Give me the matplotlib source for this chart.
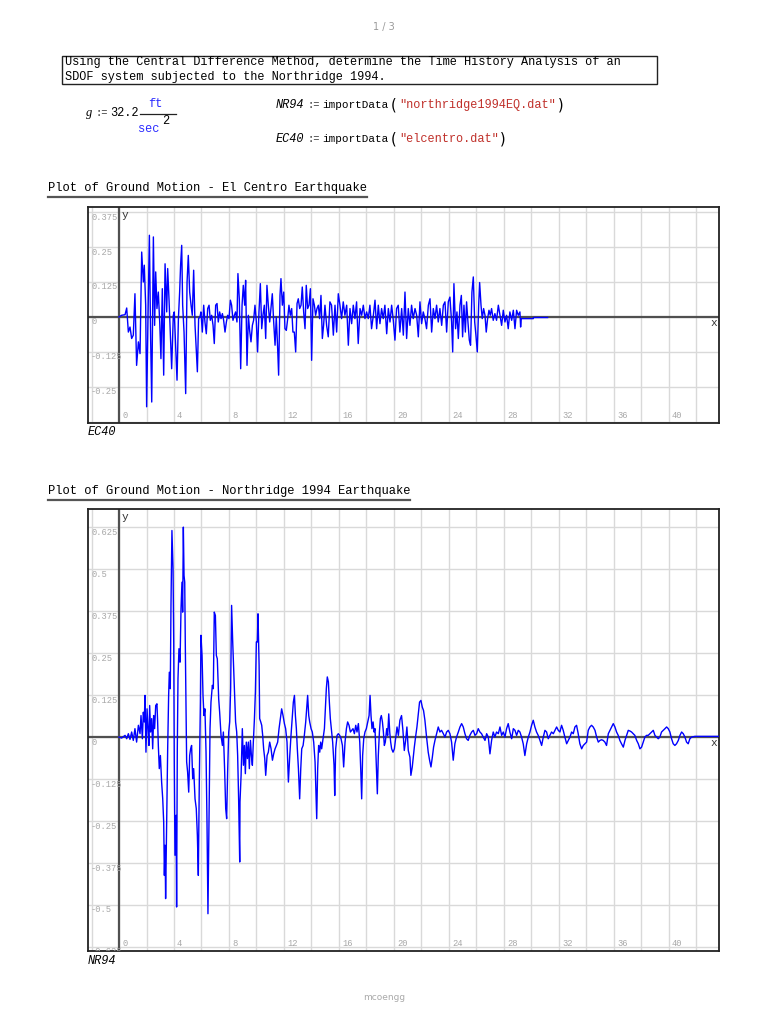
import matplotlib.pyplot as plt
import matplotlib.transforms as mtransforms
from matplotlib.patches import Rectangle
from matplotlib.lines import Line2D

# ground motion: time (s) and acceleration (g)
ec40_t = [0.00, 0.19, 0.44, 0.56, 0.68, 0.80, 0.92, 1.04, 1.16, 1.28, 1.41, 1.53, 1.65, 1.77, 1.84,
          1.94, 2.01, 2.13, 2.21, 2.30, 2.38, 2.50, 2.59, 2.67, 2.76, 2.86, 2.96, 3.05, 3.15, 3.25,
          3.35, 3.47, 3.54, 3.64, 3.73, 3.83, 3.95, 4.02, 4.12, 4.22, 4.32, 4.41, 4.48, 4.56, 4.63,
          4.73, 4.85, 4.95, 5.04, 5.14, 5.24, 5.33, 5.43, 5.53, 5.60, 5.70, 5.79, 5.89, 5.96, 6.06,
          6.16, 6.25, 6.35, 6.45, 6.55, 6.64, 6.74, 6.84, 6.93, 7.03, 7.13, 7.22, 7.32, 7.42, 7.52,
          7.61, 7.71, 7.81, 7.90, 8.00, 8.10, 8.19, 8.29, 8.39, 8.48, 8.58, 8.65, 8.75, 8.85, 8.95,
          9.04, 9.14, 9.21, 9.31, 9.41, 9.50, 9.60, 9.70, 9.79, 9.89, 9.99, 10.08, 10.18, 10.28, 10.38,
          10.47, 10.57, 10.67, 10.76, 10.86, 10.96, 11.05, 11.15, 11.25, 11.35, 11.44, 11.54, 11.61, 11.71, 11.78,
          11.88, 11.98, 12.07, 12.17, 12.27, 12.36, 12.46, 12.56, 12.65, 12.75, 12.85, 12.95, 13.04, 13.14, 13.24,
          13.33, 13.43, 13.53, 13.62, 13.72, 13.82, 13.92, 14.01, 14.11, 14.21, 14.30, 14.40, 14.50, 14.59, 14.69,
          14.79, 14.88, 14.98, 15.10, 15.22, 15.34, 15.46, 15.59, 15.71, 15.83, 15.95, 16.07, 16.19, 16.31, 16.43,
          16.56, 16.68, 16.80, 16.92, 17.04, 17.16, 17.28, 17.40, 17.53, 17.65, 17.77, 17.89, 18.01, 18.13, 18.25,
          18.37, 18.50, 18.62, 18.74, 18.86, 18.98, 19.10, 19.22, 19.34, 19.47, 19.59, 19.71, 19.83, 19.95, 20.07,
          20.19, 20.31, 20.43, 20.56, 20.68, 20.80, 20.92, 21.04, 21.16, 21.28, 21.40, 21.53, 21.65, 21.77, 21.89,
          22.01, 22.13, 22.25, 22.37, 22.50, 22.62, 22.74, 22.86, 22.98, 23.10, 23.22, 23.34, 23.47, 23.59, 23.71,
          23.83, 23.95, 24.07, 24.19, 24.27, 24.36, 24.48, 24.58, 24.68, 24.80, 24.90, 24.99, 25.09, 25.19, 25.28,
          25.38, 25.48, 25.57, 25.67, 25.77, 25.87, 25.96, 26.06, 26.16, 26.23, 26.33, 26.42, 26.52, 26.62, 26.71,
          26.81, 26.91, 27.00, 27.10, 27.22, 27.34, 27.46, 27.59, 27.71, 27.83, 27.95, 28.07, 28.19, 28.31, 28.43,
          28.56, 28.68, 28.80, 28.92, 29.04, 29.16, 29.21, 29.26, 30.13, 30.16, 31.17]
ec40_a = [0.000, 0.006, 0.008, 0.032, -0.054, -0.036, -0.077, -0.065, 0.083, -0.173, -0.089, -0.131, 0.232, 0.125, 0.185,
          0.042, -0.321, 0.065, 0.292, -0.077, -0.304, 0.286, -0.030, 0.161, 0.030, 0.089, -0.018, -0.149, 0.101, -0.208,
          0.190, 0.018, 0.173, 0.060, -0.054, -0.185, 0.006, 0.018, -0.101, -0.226, -0.006, 0.089, 0.185, 0.256, 0.042,
          -0.054, -0.274, 0.125, 0.220, 0.089, 0.042, 0.006, 0.167, -0.030, -0.101, -0.196, -0.006, 0.000, 0.018, -0.054,
          0.042, -0.018, -0.060, 0.030, 0.042, -0.012, 0.006, -0.030, -0.095, 0.042, 0.048, -0.018, 0.018, -0.006, 0.012,
          -0.012, -0.054, -0.018, 0.006, -0.006, 0.060, 0.042, -0.012, 0.006, 0.018, -0.018, 0.155, 0.065, -0.185, 0.042,
          0.113, 0.042, 0.131, -0.173, 0.006, -0.048, -0.089, -0.030, -0.012, 0.042, -0.018, -0.125, 0.018, 0.119, -0.042,
          0.006, 0.042, -0.077, 0.113, 0.042, -0.018, 0.030, 0.083, -0.018, -0.101, 0.000, -0.113, -0.208, 0.077, 0.137,
          0.042, 0.089, -0.042, -0.048, -0.006, 0.042, 0.006, 0.030, -0.054, -0.054, -0.125, 0.048, 0.065, 0.030, 0.042,
          0.107, 0.018, -0.042, 0.113, 0.030, 0.042, 0.101, -0.155, 0.065, 0.042, 0.006, 0.030, 0.042, -0.006, 0.077,
          -0.077, -0.030, 0.042, -0.030, -0.071, 0.054, 0.042, -0.065, 0.042, -0.054, 0.083, 0.042, -0.006, 0.054, 0.006,
          0.042, -0.101, 0.030, -0.024, 0.042, -0.006, 0.054, -0.095, 0.030, 0.006, 0.042, -0.006, 0.018, -0.006, 0.042,
          -0.042, 0.006, 0.060, -0.042, 0.042, -0.024, 0.030, -0.006, 0.042, -0.060, 0.030, -0.018, 0.042, -0.012, -0.083,
          0.030, 0.042, -0.054, 0.030, -0.065, 0.089, -0.077, 0.030, -0.030, 0.042, -0.006, 0.030, 0.006, -0.071, 0.054,
          -0.024, 0.018, -0.006, -0.042, 0.042, 0.065, -0.054, 0.030, -0.006, 0.042, -0.018, 0.030, -0.030, 0.042, 0.054,
          -0.054, 0.054, 0.071, -0.018, -0.125, 0.119, -0.042, 0.018, -0.077, 0.042, 0.077, -0.071, 0.042, -0.054, 0.054,
          -0.018, -0.083, -0.101, 0.089, 0.143, -0.018, -0.065, -0.125, 0.042, 0.123, 0.042, -0.006, 0.030, 0.006, -0.054,
          -0.006, 0.024, 0.006, 0.030, -0.012, 0.012, -0.012, 0.042, 0.006, -0.030, 0.024, -0.018, 0.006, -0.042, 0.018,
          -0.012, 0.024, -0.042, 0.024, 0.006, 0.018, -0.036, -0.006, -0.006, -0.002, -0.002]

nr94_t = [0.00, 0.19, 0.44, 0.56, 0.68, 0.80, 0.92, 1.04, 1.16, 1.28, 1.41, 1.53, 1.60, 1.70, 1.77,
          1.84, 1.89, 1.96, 2.04, 2.11, 2.18, 2.23, 2.30, 2.38, 2.45, 2.52, 2.59, 2.67, 2.76, 2.81,
          2.86, 2.93, 3.01, 3.10, 3.18, 3.25, 3.30, 3.35, 3.39, 3.47, 3.54, 3.61, 3.66, 3.73, 3.78,
          3.85, 3.93, 3.98, 4.02, 4.07, 4.15, 4.19, 4.24, 4.29, 4.36, 4.44, 4.51, 4.58, 4.63, 4.68,
          4.73, 4.78, 4.82, 4.87, 4.92, 4.99, 5.07, 5.14, 5.21, 5.28, 5.36, 5.43, 5.53, 5.62, 5.70,
          5.77, 5.84, 5.92, 5.96, 6.04, 6.11, 6.18, 6.25, 6.33, 6.40, 6.47, 6.55, 6.62, 6.69, 6.79,
          6.86, 6.93, 7.01, 7.08, 7.15, 7.25, 7.32, 7.42, 7.52, 7.59, 7.68, 7.76, 7.83, 7.90, 7.98,
          8.05, 8.12, 8.19, 8.27, 8.34, 8.41, 8.48, 8.56, 8.63, 8.70, 8.78, 8.80, 8.88, 8.97, 9.05,
          9.12, 9.19, 9.26, 9.34, 9.41, 9.48, 9.56, 9.63, 9.70, 9.77, 9.85, 9.92, 9.99, 10.06, 10.11,
          10.19, 10.23, 10.31, 10.38, 10.45, 10.52, 10.60, 10.67, 10.77, 10.86, 10.96, 11.06, 11.16, 11.25, 11.35,
          11.45, 11.54, 11.64, 11.74, 11.83, 11.93, 12.03, 12.12, 12.22, 12.32, 12.42, 12.51, 12.61, 12.68, 12.76,
          12.83, 12.90, 12.97, 13.05, 13.14, 13.22, 13.29, 13.39, 13.48, 13.58, 13.65, 13.72, 13.80, 13.87, 13.97,
          14.06, 14.16, 14.26, 14.33, 14.38, 14.45, 14.52, 14.60, 14.67, 14.74, 14.84, 14.94, 15.01, 15.08, 15.15,
          15.23, 15.30, 15.37, 15.47, 15.54, 15.64, 15.69, 15.76, 15.86, 15.95, 16.05, 16.15, 16.25, 16.34, 16.44,
          16.54, 16.63, 16.73, 16.83, 16.92, 17.02, 17.12, 17.22, 17.31, 17.41, 17.51, 17.58, 17.65, 17.72, 17.80,
          17.89, 17.99, 18.09, 18.19, 18.26, 18.33, 18.40, 18.48, 18.55, 18.62, 18.69, 18.79, 18.86, 18.94, 19.01,
          19.08, 19.16, 19.23, 19.30, 19.37, 19.47, 19.54, 19.62, 19.69, 19.76, 19.83, 19.93, 20.03, 20.12, 20.22,
          20.32, 20.43, 20.55, 20.65, 20.75, 20.85, 20.94, 21.04, 21.16, 21.23, 21.33, 21.40, 21.48, 21.57, 21.67,
          21.77, 21.86, 21.96, 22.06, 22.15, 22.25, 22.37, 22.49, 22.59, 22.69, 22.79, 22.88, 22.98, 23.10, 23.22,
          23.34, 23.46, 23.59, 23.71, 23.83, 23.95, 24.07, 24.19, 24.31, 24.43, 24.55, 24.68, 24.80, 24.92, 25.04,
          25.16, 25.28, 25.40, 25.52, 25.65, 25.77, 25.89, 26.01, 26.13, 26.25, 26.37, 26.49, 26.62, 26.74, 26.86,
          26.98, 27.10, 27.22, 27.34, 27.46, 27.59, 27.71, 27.83, 27.95, 28.07, 28.19, 28.31, 28.43, 28.56, 28.68,
          28.80, 28.92, 29.04, 29.16, 29.28, 29.40, 29.52, 29.65, 29.77, 29.89, 30.01, 30.13, 30.25, 30.37, 30.49,
          30.62, 30.74, 30.86, 30.98, 31.10, 31.22, 31.34, 31.46, 31.59, 31.71, 31.83, 31.95, 32.07, 32.19, 32.31,
          32.43, 32.56, 32.68, 32.80, 32.92, 33.04, 33.16, 33.28, 33.40, 33.52, 33.65, 33.77, 33.89, 34.01, 34.13,
          34.25, 34.37, 34.49, 34.62, 34.74, 34.86, 34.98, 35.10, 35.22, 35.34, 35.46, 35.59, 35.71, 35.83, 35.95,
          36.07, 36.19, 36.31, 36.43, 36.55, 36.68, 36.80, 36.92, 37.04, 37.16, 37.28, 37.40, 37.52, 37.65, 37.77,
          37.89, 38.01, 38.13, 38.25, 38.37, 38.49, 38.62, 38.74, 38.86, 38.98, 39.10, 39.22, 39.34, 39.46, 39.59,
          39.71, 39.83, 39.95, 40.07, 40.19, 40.31, 40.43, 40.55, 40.68, 40.80, 40.92, 41.04, 41.16, 41.28, 41.40,
          41.52, 41.65, 41.89, 42.01, 43.60]
nr94_a = [0.000, -0.003, 0.005, -0.005, 0.010, -0.007, 0.015, -0.010, 0.025, -0.015, 0.035, 0.010, 0.064, -0.005, 0.074,
          0.045, 0.124, -0.045, 0.084, 0.025, -0.025, 0.094, 0.015, 0.055, -0.035, 0.064, 0.025, 0.094, 0.099, 0.045,
          -0.025, -0.094, -0.055, -0.134, -0.184, -0.253, -0.412, -0.322, -0.481, -0.233, -0.035, 0.124, 0.193, 0.144, 0.392,
          0.615, 0.501, 0.283, -0.074, -0.352, -0.233, -0.506, -0.035, 0.174, 0.263, 0.223, 0.382, 0.461, 0.372, 0.625,
          0.481, 0.461, 0.283, 0.104, -0.074, -0.104, -0.164, -0.055, -0.035, -0.025, -0.124, -0.094, -0.184, -0.213, -0.293,
          -0.412, -0.134, 0.104, 0.303, 0.243, 0.124, 0.064, 0.084, -0.045, -0.253, -0.526, -0.233, 0.025, 0.104, 0.154,
          0.144, 0.372, 0.362, 0.243, 0.233, 0.114, 0.074, 0.005, -0.025, 0.015, -0.094, -0.213, -0.243, -0.104, 0.015,
          0.045, 0.144, 0.392, 0.283, 0.203, 0.124, 0.045, 0.015, -0.055, -0.184, -0.372, -0.193, -0.114, 0.025, -0.084,
          -0.025, -0.109, -0.015, -0.064, -0.015, -0.094, -0.010, -0.055, -0.084, -0.015, 0.055, 0.134, 0.283, 0.283, 0.367,
          0.213, 0.055, 0.045, 0.035, 0.005, -0.035, -0.064, -0.114, -0.055, -0.045, -0.015, -0.035, -0.069, -0.050, -0.035,
          -0.025, -0.015, 0.025, 0.055, 0.084, 0.064, 0.040, 0.025, -0.015, -0.134, -0.055, 0.005, 0.064, 0.104, 0.124,
          0.064, 0.025, -0.035, -0.094, -0.184, -0.094, -0.035, -0.025, 0.005, 0.045, 0.084, 0.124, 0.064, 0.045, 0.025,
          0.015, -0.015, -0.074, -0.174, -0.243, -0.094, -0.025, -0.045, -0.015, -0.035, -0.005, 0.025, 0.084, 0.144, 0.179,
          0.164, 0.104, 0.055, 0.015, -0.015, -0.084, -0.174, -0.035, 0.005, 0.010, 0.005, -0.005, -0.025, -0.089, -0.015,
          0.025, 0.045, 0.035, 0.015, 0.020, 0.025, 0.010, 0.035, 0.015, 0.040, -0.015, -0.094, -0.184, -0.055, -0.005,
          0.015, 0.025, 0.045, 0.064, 0.124, 0.064, 0.025, 0.045, 0.015, 0.025, -0.055, -0.169, -0.055, 0.015, 0.055,
          0.064, 0.045, 0.015, -0.025, -0.015, 0.025, 0.005, 0.069, 0.015, -0.015, -0.035, -0.045, -0.035, -0.005, 0.030,
          0.005, 0.050, 0.064, 0.020, -0.040, -0.010, 0.030, -0.040, -0.060, -0.114, -0.089, -0.060, -0.030, 0.000, 0.030,
          0.069, 0.104, 0.109, 0.089, 0.079, 0.050, 0.000, -0.045, -0.069, -0.089, -0.060, -0.030, -0.010, 0.010, 0.030,
          0.015, 0.020, 0.010, 0.000, 0.015, 0.020, 0.010, -0.015, -0.069, -0.020, 0.000, 0.015, 0.030, 0.040, 0.030,
          0.010, -0.005, -0.010, 0.005, 0.015, 0.020, 0.005, 0.010, 0.025, 0.015, 0.010, 0.000, -0.010, 0.010, 0.000,
          -0.050, -0.010, 0.015, 0.000, 0.015, 0.010, 0.030, 0.005, 0.015, 0.000, 0.025, 0.040, 0.015, -0.005, 0.025,
          0.020, 0.005, 0.020, 0.015, 0.000, -0.020, -0.055, -0.020, 0.000, 0.015, 0.035, 0.050, 0.030, 0.015, 0.005,
          -0.010, -0.025, 0.000, 0.020, 0.015, -0.005, 0.005, 0.015, 0.010, 0.020, 0.030, 0.020, 0.015, 0.035, 0.020,
          0.000, -0.020, -0.010, 0.000, 0.015, 0.010, 0.030, 0.035, 0.010, -0.020, -0.035, -0.025, -0.020, -0.015, 0.020,
          0.030, 0.035, 0.030, 0.020, 0.000, -0.015, -0.010, -0.008, -0.010, -0.015, -0.025, 0.010, 0.020, 0.030, 0.040,
          0.030, 0.015, 0.005, -0.010, -0.020, -0.030, -0.010, 0.005, 0.020, 0.018, 0.015, 0.010, 0.005, -0.010, -0.020,
          -0.035, -0.030, -0.015, 0.000, 0.005, 0.005, 0.010, 0.015, 0.020, 0.005, 0.000, -0.005, 0.000, 0.015, 0.020,
          0.025, 0.030, 0.025, 0.015, -0.005, -0.020, -0.025, -0.020, -0.010, 0.005, 0.015, 0.010, 0.000, -0.015, -0.020,
          -0.005, 0.000, 0.002, 0.002, 0.002]

x_ticks = [0, 4, 8, 12, 16, 20, 24, 28, 32, 36, 40]
ec40_yticks = [0.375, 0.25, 0.125, 0, -0.125, -0.25]
ec40_ylabels = ['0.375', '0.25', '0.125', '0', '-0.125', '-0.25']
nr94_yticks = [0.625, 0.5, 0.375, 0.25, 0.125, 0, -0.125, -0.25, -0.375, -0.5, -0.625]
nr94_ylabels = ['0.625', '0.5', '0.375', '0.25', '0.125', '0', '-0.125', '-0.25', '-0.375', '-0.5', '-0.625']

MONO = 'Liberation Mono'
W, H = 768, 1024
fig = plt.figure(figsize=(W / 100, H / 100), dpi=100)


def px(x, y):
    return x / W, 1 - y / H


def put(x, y, s, **kw):
    kw.setdefault('family', MONO)
    kw.setdefault('va', 'center')
    fig.text(*px(x, y), s, **kw)


def panel(top, bottom, t, a, ylim, yticks, ylabels):
    x0, y0 = px(88, bottom)
    ax = fig.add_axes([x0, y0, (719 - 88) / W, (bottom - top) / H])
    ax.set_xlim(-2.255, 43.64)
    ax.set_ylim(*ylim)
    for gx in range(-2, 44, 2):
        ax.axvline(gx, color='#d9d9d9', lw=1.0, zorder=0)
    for k in range(-6, 7):
        if ylim[0] < k * 0.125 < ylim[1]:
            ax.axhline(k * 0.125, color='#d9d9d9', lw=1.0, zorder=0)
    ax.axhline(0, color='#505050', lw=1.6, zorder=2)
    ax.axvline(0, color='#505050', lw=1.6, zorder=2)
    ax.plot(t, a, color='#0000ff', lw=1.0, zorder=3)
    ax.set_xticks([])
    ax.set_yticks([])
    for sp in ax.spines.values():
        sp.set_color('#222222')
        sp.set_linewidth(1.3)

    ytr = mtransforms.offset_copy(ax.get_yaxis_transform(), fig=fig, x=3, y=-5, units='dots')
    for v, s in zip(yticks, ylabels):
        ax.text(0, v, s, transform=ytr, ha='left', va='center', fontsize=6.3,
                color='#a8a8a8', family=MONO, clip_on=True)
    xtr = mtransforms.offset_copy(ax.get_xaxis_transform(), fig=fig, x=3, y=7, units='dots')
    for v in x_ticks:
        ax.text(v, 0, str(v), transform=xtr, ha='left', va='center', fontsize=6.3,
                color='#a8a8a8', family=MONO)
    xl = mtransforms.offset_copy(ax.transData, fig=fig, x=0, y=-6, units='dots')
    ax.text(43.27, 0, 'x', transform=xl, ha='center', va='center', fontsize=8,
            color='#333333', family=MONO)
    yl = mtransforms.offset_copy(ax.get_xaxis_transform(), fig=fig, x=6, y=-8, units='dots')
    ax.text(0, 1, 'y', transform=yl, ha='center', va='center', fontsize=8,
            color='#333333', family=MONO)
    return ax


# page header
put(384, 27, '1 / 3', ha='center', fontsize=7, color='#999999', family='DejaVu Sans')
fig.add_artist(Rectangle(px(62, 84), 595 / W, 28 / H, transform=fig.transFigure,
                         fill=False, ec='#222222', lw=1.0))
put(65, 62, 'Using the Central Difference Method, determine the Time History Analysis of an',
    fontsize=8.6)
put(65, 77, 'SDOF system subjected to the Northridge 1994.', fontsize=8.6)

put(86, 113, 'g', fontsize=9, style='italic', family='Liberation Serif')
put(95, 113, ':=', fontsize=7.5, color='#333333')
put(110, 113, '32.2', fontsize=8.6)
put(155, 104, 'ft', ha='center', fontsize=8.6, color='#2a2aff')
fig.add_artist(Line2D([140 / W, 176 / W], [1 - 114 / H] * 2, color='#222222', lw=0.9))
put(149, 129, 'sec', ha='center', fontsize=8.6, color='#2a2aff')
put(162, 121, '2', fontsize=8.6)

for yy, name, fname in [(105, 'NR94', '"northridge1994EQ.dat"'), (139, 'EC40', '"elcentro.dat"')]:
    put(276, yy, name, fontsize=8.6, style='italic')
    put(307, yy, ':=', fontsize=7.5, color='#333333')
    put(322, yy, 'importData', fontsize=7.9)
    put(391, yy, '(', fontsize=10.5, family='DejaVu Sans')
    put(399, yy, fname, fontsize=8.6, color='#c0302a')
    put(399 + 7.17 * len(fname) + 1, yy, ')', fontsize=10.5, family='DejaVu Sans')

# section titles
put(48, 188, 'Plot of Ground Motion - El Centro Earthquake', fontsize=8.7)
fig.add_artist(Line2D([48 / W, 367 / W], [1 - 197 / H] * 2, color='#555555', lw=1.6))
put(48, 491, 'Plot of Ground Motion - Northridge 1994 Earthquake', fontsize=8.7)
fig.add_artist(Line2D([48 / W, 410 / W], [1 - 500 / H] * 2, color='#555555', lw=1.6))

panel(207, 423, ec40_t, ec40_a, (-0.379, 0.393), ec40_yticks, ec40_ylabels)
panel(509, 951, nr94_t, nr94_a, (-0.637, 0.679), nr94_yticks, nr94_ylabels)

put(88, 432, 'EC40', fontsize=8.6, style='italic')
put(88, 961, 'NR94', fontsize=8.6, style='italic')
put(384, 997, 'mcoengg', ha='center', fontsize=6.5, color='#aaaaaa', family='DejaVu Sans')

fig.savefig('out.png', dpi=100)
